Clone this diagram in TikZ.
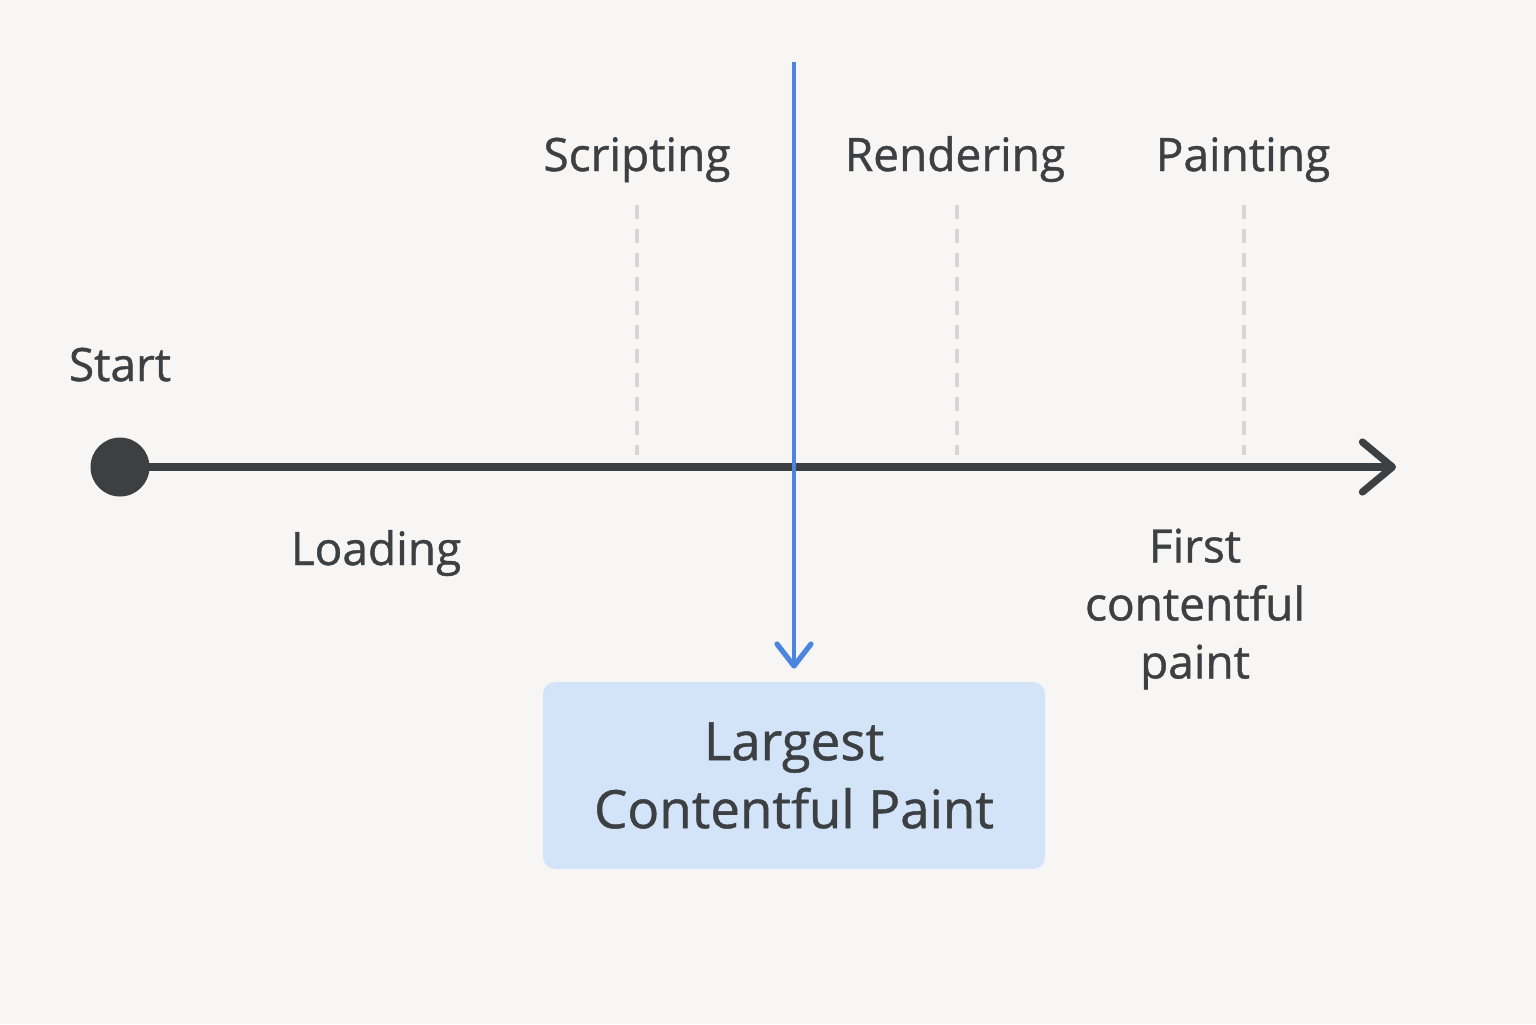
\documentclass[tikz,border=0pt]{standalone}
\usepackage{fontspec}
\setmainfont{Open Sans}[FakeBold=0.9]
\usetikzlibrary{arrows.meta}
\definecolor{bgc}{HTML}{F7F6F5}
\definecolor{ink}{HTML}{3C4043}
\definecolor{blu}{HTML}{4A86E0}
\definecolor{boxc}{HTML}{D4E4F8}
\definecolor{dashc}{HTML}{D6D6D6}
\tikzset{
  lbl/.style={text=ink, inner sep=0pt, font=\fontsize{23}{29}\selectfont},
  guide/.style={draw=dashc, line width=1.6pt, dash pattern=on 7pt off 5pt},
  axis/.style={draw=ink, line width=3.6pt, -{Straight Barb[length=15pt,width=25pt,round]}},
  marker/.style={draw=blu, line width=2pt, -{Straight Barb[length=11pt,width=17pt,round,line width=2.6pt]}},
  lcpbox/.style={fill=boxc, rounded corners=6pt, minimum width=251pt, minimum height=93.5pt, align=center, text=ink, font=\fontsize{26.4}{34}\selectfont, inner sep=0pt}
}
\begin{document}
\begin{tikzpicture}[x=0.5pt,y=-0.5pt]
\fill[bgc] (0,0) rectangle (1536,1024);
\useasboundingbox (0,0) rectangle (1536,1024);
% guides
\coordinate (g1t) at (637,205); \coordinate (g1b) at (637,455);
\coordinate (g2t) at (957,205); \coordinate (g2b) at (957,455);
\coordinate (g3t) at (1244,205); \coordinate (g3b) at (1244,455);
\draw[guide] (g1t) -- (g1b);
\draw[guide] (g2t) -- (g2b);
\draw[guide] (g3t) -- (g3b);
% axis
\node[circle, fill=ink, minimum size=29.5pt, inner sep=0pt] (start) at (120,467) {};
\coordinate (axend) at (1396,467);
\draw[axis] (start.center) -- (axend);
% labels
\node[lbl, anchor=base] (scripting) at (637,171) {Scripting};
\node[lbl, anchor=base] (rendering) at (955,171) {Rendering};
\node[lbl, anchor=base] (painting) at (1243,171) {Painting};
\node[lbl, anchor=base] (startlbl) at (120,381) {Start};
\node[lbl, anchor=base] (loading) at (376,565) {Loading};
\node[lbl, align=center] (fcp) at (1195,609) {First\\contentful\\paint};
% LCP box
\node[lcpbox] (lcp) at (794,775.5) {Largest\\Contentful Paint};
\coordinate (mtop) at (794,62);
\draw[marker, shorten >=6.5pt] (mtop) -- (lcp.north);
\end{tikzpicture}
\end{document}
